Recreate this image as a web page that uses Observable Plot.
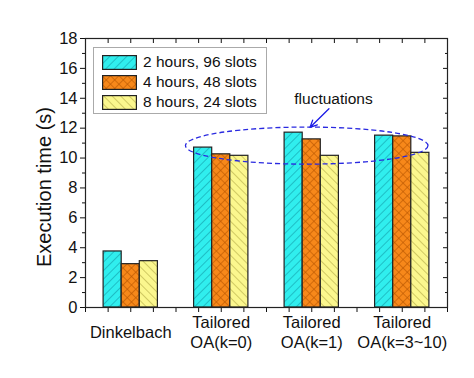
<!DOCTYPE html>
<html>
<head>
<meta charset="utf-8">
<script src="https://cdn.jsdelivr.net/npm/d3@7"></script>
<script src="https://cdn.jsdelivr.net/npm/@observablehq/plot@0.6"></script>
<style>
  html, body { margin: 0; padding: 0; background: #fff; }
  #wrap { position: relative; width: 474px; height: 378px; font-family: "Liberation Sans", Arial, sans-serif; }
  #legend { position: absolute; left: 93px; top: 47px; width: 174px; height: 67px; border: 1px solid #aaa; background: #fff; box-sizing: border-box; }
  .row { position: absolute; left: 8px; height: 16px; display: flex; align-items: center; font-size: 15.5px; color: #111; }
  .row svg { margin-right: 6px; }
</style>
</head>
<body>
<svg width="0" height="0" style="position:absolute">
  <defs>
    <pattern id="pCyan" patternUnits="userSpaceOnUse" width="6" height="6" patternTransform="rotate(45)">
      <rect width="6" height="6" fill="#30eeee"/>
      <line x1="0" y1="0" x2="0" y2="6" stroke="#17a9b3" stroke-width="1.4"/>
    </pattern>
    <pattern id="pOrange" patternUnits="userSpaceOnUse" width="6" height="6" patternTransform="rotate(45)">
      <rect width="6" height="6" fill="#f7881a"/>
      <line x1="0" y1="0" x2="0" y2="6" stroke="#b85600" stroke-width="1.2"/>
      <line x1="0" y1="0" x2="6" y2="0" stroke="#b85600" stroke-width="1.2"/>
    </pattern>
    <pattern id="pYellow" patternUnits="userSpaceOnUse" width="6" height="6" patternTransform="rotate(-45)">
      <rect width="6" height="6" fill="#fbf78e"/>
      <line x1="0" y1="0" x2="0" y2="6" stroke="#b3aa45" stroke-width="1.2"/>
    </pattern>
  </defs>
</svg>
<div id="wrap">
  <div id="chart"></div>
  <div id="legend"></div>
</div>
<script>
// ---- data ----
const categories = ["Dinkelbach", "Tailored\nOA(k=0)", "Tailored\nOA(k=1)", "Tailored\nOA(k=3~10)"];
const seriesNames = ["2 hours, 96 slots", "4 hours, 48 slots", "8 hours, 24 slots"];
const values2h = [3.75, 10.7, 11.7, 11.5];
const values4h = [2.9, 10.25, 11.25, 11.45];
const values8h = [3.1, 10.15, 10.15, 10.35];
const yTicks = [0, 2, 4, 6, 8, 10, 12, 14, 16, 18];
const annotationText = "fluctuations";

// ---- styles ----
const fills = ["url(#pCyan)", "url(#pOrange)", "url(#pYellow)"];
const series = [values2h, values4h, values8h];

const rows = [];
series.forEach((vals, s) => vals.forEach((v, i) => rows.push({g: i + 1, s, v, cat: categories[i]})));

const barW = 0.2;
const xTicksAll = d3.range(0.5, 4.51, 0.25);
const yMinor = d3.range(1, 18, 2);
const cats = categories.map((c, i) => ({g: i + 1, c}));

const chart = Plot.plot({
  width: 474,
  height: 378,
  marginLeft: 85,
  marginRight: 27,
  marginTop: 38,
  marginBottom: 71,
  style: {fontFamily: "Liberation Sans, Arial, sans-serif", fontSize: "15px", color: "#111", background: "#fff"},
  x: {domain: [0.5, 4.5], axis: null},
  y: {domain: [0, 18], axis: null},
  marks: [
    ...series.map((_, s) => Plot.rect(rows.filter(d => d.s === s), {
      x1: d => d.g - 1.5 * barW + d.s * barW,
      x2: d => d.g - 0.5 * barW + d.s * barW,
      y1: 0,
      y2: "v",
      fill: fills[s],
      stroke: "#222",
      strokeWidth: 1.2
    })),
    // left axis
    Plot.axisY({ticks: yTicks, tickSize: 5, tickFormat: d => d, fontSize: 16.5, tickPadding: 3, label: null}),
    Plot.axisY({ticks: yMinor, tickSize: 3, text: null, label: null}),
    // right axis (inward ticks)
    Plot.axisY({anchor: "right", ticks: yTicks, tickSize: 5, dx: -5, text: null, label: null}),
    Plot.axisY({anchor: "right", ticks: yMinor, tickSize: 3, dx: -3, text: null, label: null}),
    // bottom axis ticks
    Plot.axisX({ticks: xTicksAll, tickSize: 5, text: null, label: null}),
    // top axis (inward ticks)
    Plot.axisX({anchor: "top", ticks: xTicksAll, tickSize: 4, dy: 4, text: null, label: null}),
    Plot.frame({stroke: "#222", strokeWidth: 1.2}),
    // category labels
    Plot.text(cats, {x: "g", text: "c", frameAnchor: "bottom", dy: 24, lineAnchor: "middle", lineHeight: 1.2, fontSize: 16.5, fill: "#111"}),
    // y label
    Plot.text(["Execution time (s)"], {frameAnchor: "left", textAnchor: "middle", dx: -41, dy: 14, rotate: -90, fontSize: 20, fill: "#111"}),
    // annotation
    Plot.arrow([{x1: 3.19, y1: 13.3, x2: 2.98, y2: 12.05}], {x1: "x1", y1: "y1", x2: "x2", y2: "y2", stroke: "#1a1ae6", strokeWidth: 1.3, headLength: 9, headAngle: 50}),
    Plot.text([annotationText], {x: 3.24, y: 13.92, fontSize: 15.5, fill: "#111"})
  ]
});

document.getElementById("chart").appendChild(chart);

// dashed ellipse annotation, placed through the chart's scales
const xs = chart.scale("x"), ys = chart.scale("y");
const ell = {cx: 2.95, cy: 10.8, rx: 1.34, ry: 1.24};
const cx = xs.apply(ell.cx), cy = ys.apply(ell.cy);
const rx = xs.apply(ell.cx + ell.rx) - cx, ry = cy - ys.apply(ell.cy + ell.ry);
d3.select(chart).append("ellipse")
  .attr("cx", cx).attr("cy", cy).attr("rx", rx).attr("ry", ry)
  .attr("fill", "none").attr("stroke", "#2a2ae0").attr("stroke-width", 1.3)
  .attr("stroke-dasharray", "5,3");

// legend
const legend = document.getElementById("legend");
seriesNames.forEach((name, i) => {
  const row = document.createElement("div");
  row.className = "row";
  row.style.top = (6 + i * 20) + "px";
  row.innerHTML = `<svg width="35" height="15"><rect x="0.6" y="0.6" width="33.8" height="13.8" fill="${fills[i]}" stroke="#222" stroke-width="1.2"/></svg><span>${name}</span>`;
  legend.appendChild(row);
});
</script>
</body>
</html>
